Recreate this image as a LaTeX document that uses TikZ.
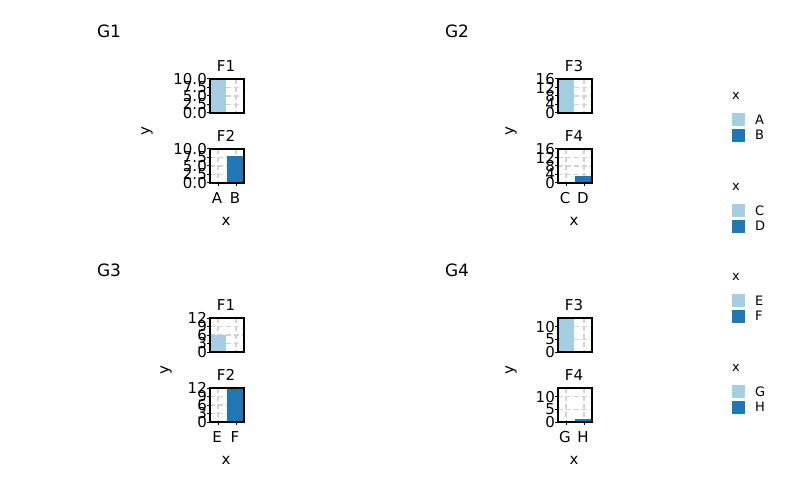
\documentclass[tikz,border=0pt]{standalone}
\usepackage{fontspec}
\setmainfont{DejaVu Sans}
\definecolor{lb}{HTML}{A6CEE3}
\definecolor{db}{HTML}{1F78B4}
\tikzset{grid/.style={gray!35,dash pattern=on 5pt off 3pt,line width=1.1pt},
frame/.style={draw=black,line width=1.2pt},
tick/.style={line width=1pt},
tl/.style={font=\fontsize{15}{15}\selectfont,inner sep=0pt},
ttl/.style={font=\fontsize{15}{15}\selectfont,inner sep=0pt},
lt/.style={font=\fontsize{13}{13}\selectfont,inner sep=0pt},
big/.style={font=\fontsize{17}{17}\selectfont,inner sep=0pt}}
\newcommand\pnl[7]{%
 \foreach \f/\l in {#4}{
   \draw[grid] (#1,#2+34-34*\f) -- (#1+34,#2+34-34*\f);
   \draw[tick] (#1-3,#2+34-34*\f) -- (#1,#2+34-34*\f);
   \node[tl,anchor=east] at (#1-3,#2+34-34*\f) {\l};}
 \draw[grid] (#1+8,#2) -- (#1+8,#2+34) (#1+26,#2) -- (#1+26,#2+34);
 \fill[#5] (#1+1,#2+34-34*#6) rectangle (#1+16,#2+34);
 \fill[#5] (#1+17,#2+34-34*#7) rectangle (#1+33,#2+34);
 \draw[frame] (#1,#2) rectangle (#1+34,#2+34);
 \node[ttl] at (#1+16,#2-13) {#3};}
\newcommand\xax[4]{%
 \draw[tick] (#1+8,#2+34) -- (#1+8,#2+37) (#1+26,#2+34) -- (#1+26,#2+37);
 \node[ttl] at (#1+7,#2+49) {#3};
 \node[ttl] at (#1+25,#2+49) {#4};
 \node[ttl] at (#1+16,#2+72) {x};}
\newcommand\lgnd[3]{%
 \node[lt] at (736,#1) {x};
 \fill[lb] (732,#1+17) rectangle (745,#1+30);
 \fill[db] (732,#1+33) rectangle (745,#1+46);
 \node[lt,anchor=west] at (755,#1+24) {#2};
 \node[lt,anchor=west] at (755,#1+39) {#3};}
\begin{document}
\begin{tikzpicture}[x=1pt,y=-1pt]
\useasboundingbox (0,0) rectangle (800,494);
\node[big] at (109,31) {G1};
\pnl{210}{79}{F1}{0/0.0,0.25/2.5,0.5/5.0,0.75/7.5,1/10.0}{lb}{1}{0}
\pnl{210}{149}{F2}{0/0.0,0.25/2.5,0.5/5.0,0.75/7.5,1/10.0}{db}{0}{0.79}
\xax{210}{149}{A}{B}
\node[ttl,rotate=90] at (147,131) {y};
\node[big] at (457,31) {G2};
\pnl{558}{79}{F3}{0/0,0.25/4,0.5/8,0.75/12,1/16}{lb}{1}{0}
\pnl{558}{149}{F4}{0/0,0.25/4,0.5/8,0.75/12,1/16}{db}{0}{0.2}
\xax{558}{149}{C}{D}
\node[ttl,rotate=90] at (511,131) {y};
\node[big] at (109,270) {G3};
\pnl{210}{318}{F1}{0/0,0.25/3,0.5/6,0.75/9,1/12}{lb}{0.5}{0}
\pnl{210}{388}{F2}{0/0,0.25/3,0.5/6,0.75/9,1/12}{db}{0}{1}
\xax{210}{388}{E}{F}
\node[ttl,rotate=90] at (166,370) {y};
\node[big] at (457,270) {G4};
\pnl{558}{318}{F3}{0/0,0.37/5,0.74/10}{lb}{1}{0}
\pnl{558}{388}{F4}{0/0,0.37/5,0.74/10}{db}{0}{0.1}
\xax{558}{388}{G}{H}
\node[ttl,rotate=90] at (511,370) {y};
\lgnd{96}{A}{B}
\lgnd{187}{C}{D}
\lgnd{277}{E}{F}
\lgnd{368}{G}{H}
\end{tikzpicture}
\end{document}
